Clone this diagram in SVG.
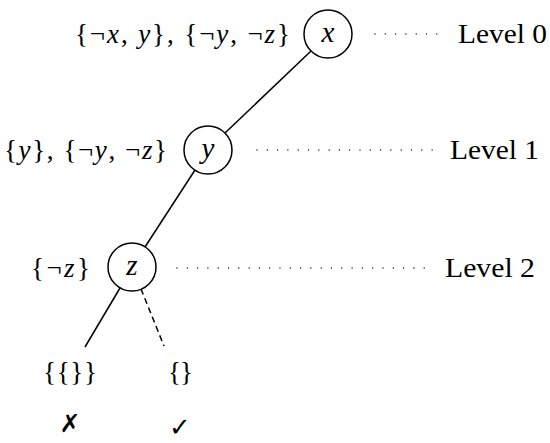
<svg xmlns="http://www.w3.org/2000/svg" width="550" height="443" viewBox="0 0 550 443">
<style>
text{font-family:'Liberation Serif','DejaVu Serif',serif;font-size:27px;fill:#000}
.v{font-style:italic}
.nl{font-size:29px}
.node circle{fill:#fff;stroke:#000;stroke-width:1.5}
.edge{stroke:#000;stroke-width:1.5;fill:none}
.dash{stroke-dasharray:6 4}
.dots{stroke:#000;stroke-width:1.3;stroke-linecap:round;stroke-dasharray:0 10.3;fill:none}
.mark{font-family:'DejaVu Sans',sans-serif}
</style>
<rect width="550" height="443" fill="#fff"/>
<g id="connectors">
<line class="edge" x1="311" y1="51" x2="225" y2="133"/>
<line class="edge" x1="195" y1="170" x2="145" y2="247"/>
<line class="edge" x1="120" y1="288" x2="85" y2="347"/>
<line class="edge dash" x1="141" y1="289" x2="164" y2="346"/>
</g>
<g id="level-guides">
<line class="dots" x1="375" y1="34" x2="440" y2="34"/>
<line class="dots" x1="257" y1="150" x2="440" y2="150"/>
<line class="dots" x1="177" y1="268" x2="430" y2="268"/>
<text x="458" y="43" textLength="89" lengthAdjust="spacingAndGlyphs">Level 0</text>
<text x="450" y="159" textLength="89" lengthAdjust="spacingAndGlyphs">Level 1</text>
<text x="445" y="277" textLength="90" lengthAdjust="spacingAndGlyphs">Level 2</text>
</g>
<g id="node-x" class="node">
<circle cx="328" cy="34" r="24"/>
<text class="v nl" x="328" y="42" text-anchor="middle">x</text>
<text x="75" y="43" textLength="215" lengthAdjust="spacing">{¬<tspan class="v">x</tspan>, <tspan class="v">y</tspan>}, {¬<tspan class="v">y</tspan>, ¬<tspan class="v">z</tspan>}</text>
</g>
<g id="node-y" class="node">
<circle cx="208" cy="150" r="24"/>
<text class="v nl" x="208" y="158" text-anchor="middle">y</text>
<text x="4" y="159" textLength="163" lengthAdjust="spacing">{<tspan class="v">y</tspan>}, {¬<tspan class="v">y</tspan>, ¬<tspan class="v">z</tspan>}</text>
</g>
<g id="node-z" class="node">
<circle cx="132" cy="267" r="24"/>
<text class="v nl" x="132" y="275" text-anchor="middle">z</text>
<text x="31" y="277" textLength="59" lengthAdjust="spacing">{¬<tspan class="v">z</tspan>}</text>
</g>
<g id="leaf-left">
<text x="43" y="381" textLength="54" lengthAdjust="spacing">{{}}</text>
<text class="mark" x="70" y="432" text-anchor="middle" style="font-weight:bold;font-size:25px">✗</text>
</g>
<g id="leaf-right">
<text x="168" y="381" textLength="25" lengthAdjust="spacing">{}</text>
<text class="mark" x="180" y="436" text-anchor="middle" style="font-size:26px">✓</text>
</g>
</svg>
